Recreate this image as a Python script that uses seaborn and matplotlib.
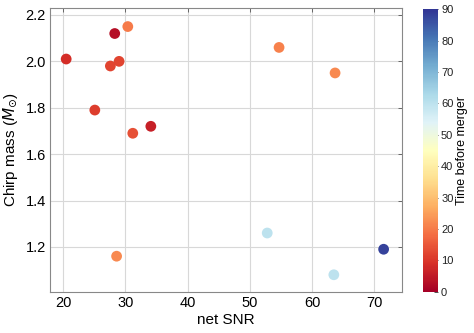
import matplotlib
matplotlib.use("Agg")
import matplotlib.pyplot as plt
import seaborn as sns
import pandas as pd
import numpy as np

snr = [20.5, 28.3, 30.4, 27.6, 29.0, 25.1, 31.2, 34.1, 54.7, 63.7, 28.6, 52.8, 63.5, 71.5]
mchirp = [2.01, 2.12, 2.15, 1.98, 2.00, 1.79, 1.69, 1.72, 2.06, 1.95, 1.16, 1.26, 1.08, 1.19]
t_merge = [8.5, 3, 20, 12, 12, 11, 14, 6, 21, 22, 22, 60, 60, 88]

df = pd.DataFrame({"snr": snr, "mchirp": mchirp, "t": t_merge})

sns.set_style("white")
plt.rcParams['font.family'] = ['Liberation Sans', 'DejaVu Sans']
plt.rcParams['text.color'] = 'black'
plt.rcParams['axes.labelcolor'] = 'black'
plt.rcParams['xtick.color'] = 'black'
plt.rcParams['ytick.color'] = 'black'

fig = plt.figure(figsize=(4.74, 3.33), dpi=100)
ax = fig.add_axes([50/474, 1-291.7/333, (402.3-50)/474, (291.7-8)/333])
cax = fig.add_axes([423.3/474, 1-291.7/333, 15/474, (291.7-9.3)/333])

cmap = plt.get_cmap("RdYlBu")
norm = matplotlib.colors.Normalize(vmin=0, vmax=90)
sns.scatterplot(data=df, x="snr", y="mchirp", hue="t", hue_norm=norm, palette=cmap,
                s=60, edgecolor="none", legend=False, ax=ax, zorder=3)

ax.set_xlim(17.9, 74.5)
ax.set_ylim(1.007, 2.23)
ax.set_xticks([20, 30, 40, 50, 60, 70])
ax.set_yticks([1.2, 1.4, 1.6, 1.8, 2.0, 2.2])
ax.set_yticklabels(["1.2", "1.4", "1.6", "1.8", "2.0", "2.2"])
ax.grid(True, color="#d8d8d8", linewidth=0.8, zorder=0)
ax.set_axisbelow(True)
ax.tick_params(direction="in", top=True, right=True, labelsize=10.5, length=3,
               color="#555555", labelcolor="black", width=0.6, pad=3)
for sp in ax.spines.values():
    sp.set_color("#888888")
    sp.set_linewidth(0.8)
ax.set_xlabel("net SNR", fontsize=11, labelpad=2, color="black")
ax.set_ylabel(r"Chirp mass ($M_{\odot}$)", fontsize=11, labelpad=4, color="black")

sm = matplotlib.cm.ScalarMappable(norm=norm, cmap=cmap)
cb = fig.colorbar(sm, cax=cax)
cb.set_ticks(np.arange(0, 91, 10))
cb.ax.tick_params(direction="in", labelsize=8, length=3, width=0.6, pad=2,
                  color="#333333", labelcolor="#222222")
cb.outline.set_visible(False)
cb.set_label("Time before merger", fontsize=9, labelpad=2, color="black")

fig.savefig("out.png", dpi=100)
